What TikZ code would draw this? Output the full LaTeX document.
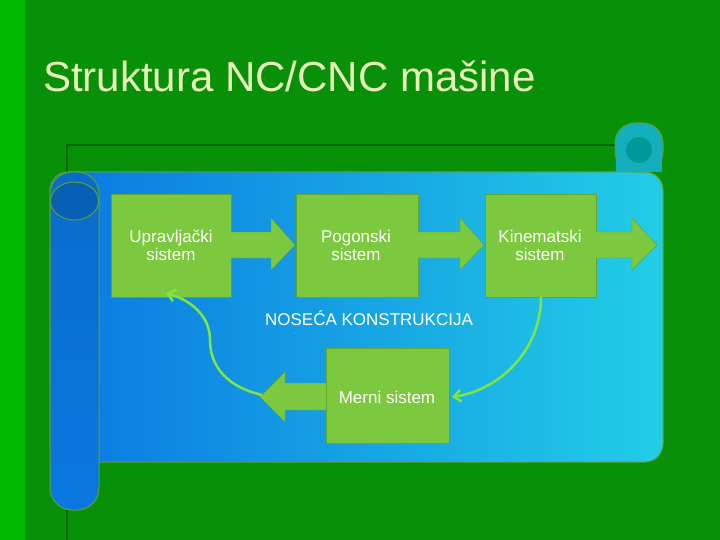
\documentclass[tikz,border=0pt]{standalone}
\usepackage{fontspec}
\setmainfont{Liberation Sans}
\usetikzlibrary{shapes.arrows,arrows.meta}
\definecolor{bg}{RGB}{8,145,8}
\definecolor{bgl}{RGB}{0,185,0}
\definecolor{bx}{RGB}{124,200,62}
\definecolor{bxd}{RGB}{100,165,45}
\definecolor{cv}{RGB}{125,230,70}
\definecolor{bl}{RGB}{10,120,225}
\definecolor{cy}{RGB}{35,205,230}
\definecolor{ttl}{RGB}{232,240,185}
\definecolor{rim}{RGB}{95,160,50}
\tikzset{
  box/.style={draw=bxd,line width=0.8pt,fill=bx},
  lbl/.style={text=white,font=\fontsize{17}{18}\selectfont,align=center},
  curve/.style={draw=cv,line width=2.5pt,-{Straight Barb[length=7pt,width=12pt]}}
}
\begin{document}
\begin{tikzpicture}[x=1pt,y=-1pt]
\useasboundingbox (0,0) rectangle (720,540);
\fill[bg] (0,0) rectangle (720,540);
\fill[bgl] (0,0) rectangle (25,540);
\draw[black!60!green,line width=2pt] (67,540) -- (67,145) -- (615,145);
% scroll
\shade[left color=bl,right color=cy,draw=rim,line width=1pt,rounded corners=18pt] (50,172) rectangle (663,462);
\fill[cy!60!teal,draw=rim,line width=1pt,rounded corners=20pt] (615,172) -- (615,123) -- (663,123) -- (663,172) -- cycle;
\fill[cy!60!teal] (616,160) rectangle (662,172);
\fill[teal!80!cyan] (639,150) circle (13);
\shade[top color=bl!90!black,bottom color=bl,draw=rim,line width=1pt,rounded corners=22pt] (50,172) rectangle (99,510);
\draw[rim,line width=1pt,fill=bl!80!black] (74.5,201) ellipse (24 and 19);
% boxes
\node[box,minimum width=120pt,minimum height=103pt,anchor=north west] (u) at (111,194) {};
\node[box,minimum width=122pt,minimum height=103pt,anchor=north west] (p) at (296,194) {};
\node[box,minimum width=111pt,minimum height=103pt,anchor=north west] (k) at (485,194) {};
\node[box,minimum width=123pt,minimum height=95pt,anchor=north west] (m) at (326,348) {};
% block arrows
\fill[bx,draw=bxd] (231,232) -- (271,232) -- (271,218) -- (295,245) -- (271,270) -- (271,258) -- (231,258);
\fill[bx,draw=bxd] (418,232) -- (460,232) -- (460,218) -- (484,245) -- (460,270) -- (460,258) -- (418,258);
\fill[bx,draw=bxd] (596,232) -- (632,232) -- (632,218) -- (657,245) -- (632,270) -- (632,258) -- (596,258);
\fill[bx,draw=bxd] (326,383) -- (285,383) -- (285,372) -- (260,397) -- (285,422) -- (285,410) -- (326,410);
% labels
\node[lbl] at (171,245) {Upravljački\\sistem};
\node[lbl] at (356,245) {Pogonski\\sistem};
\node[lbl] at (540,245) {Kinematski\\sistem};
\node[lbl] (n) at (369,318) {NOSEĆA KONSTRUKCIJA};
\node[lbl] at (387,397) {Merni sistem};
% curves
\coordinate (a1) at (262,395);
\draw[curve] (541,297) .. controls (541,350) and (500,390) .. (452,397);
\draw[curve] (a1) .. controls (220,385) and (210,360) .. (210,340) .. controls (210,315) and (190,300) .. (166,293);
% title
\node[anchor=west,text=ttl,font=\fontsize{42}{46}\selectfont,inner sep=0pt] (t) at (43,76) {Struktura NC/CNC mašine};
\end{tikzpicture}
\end{document}
